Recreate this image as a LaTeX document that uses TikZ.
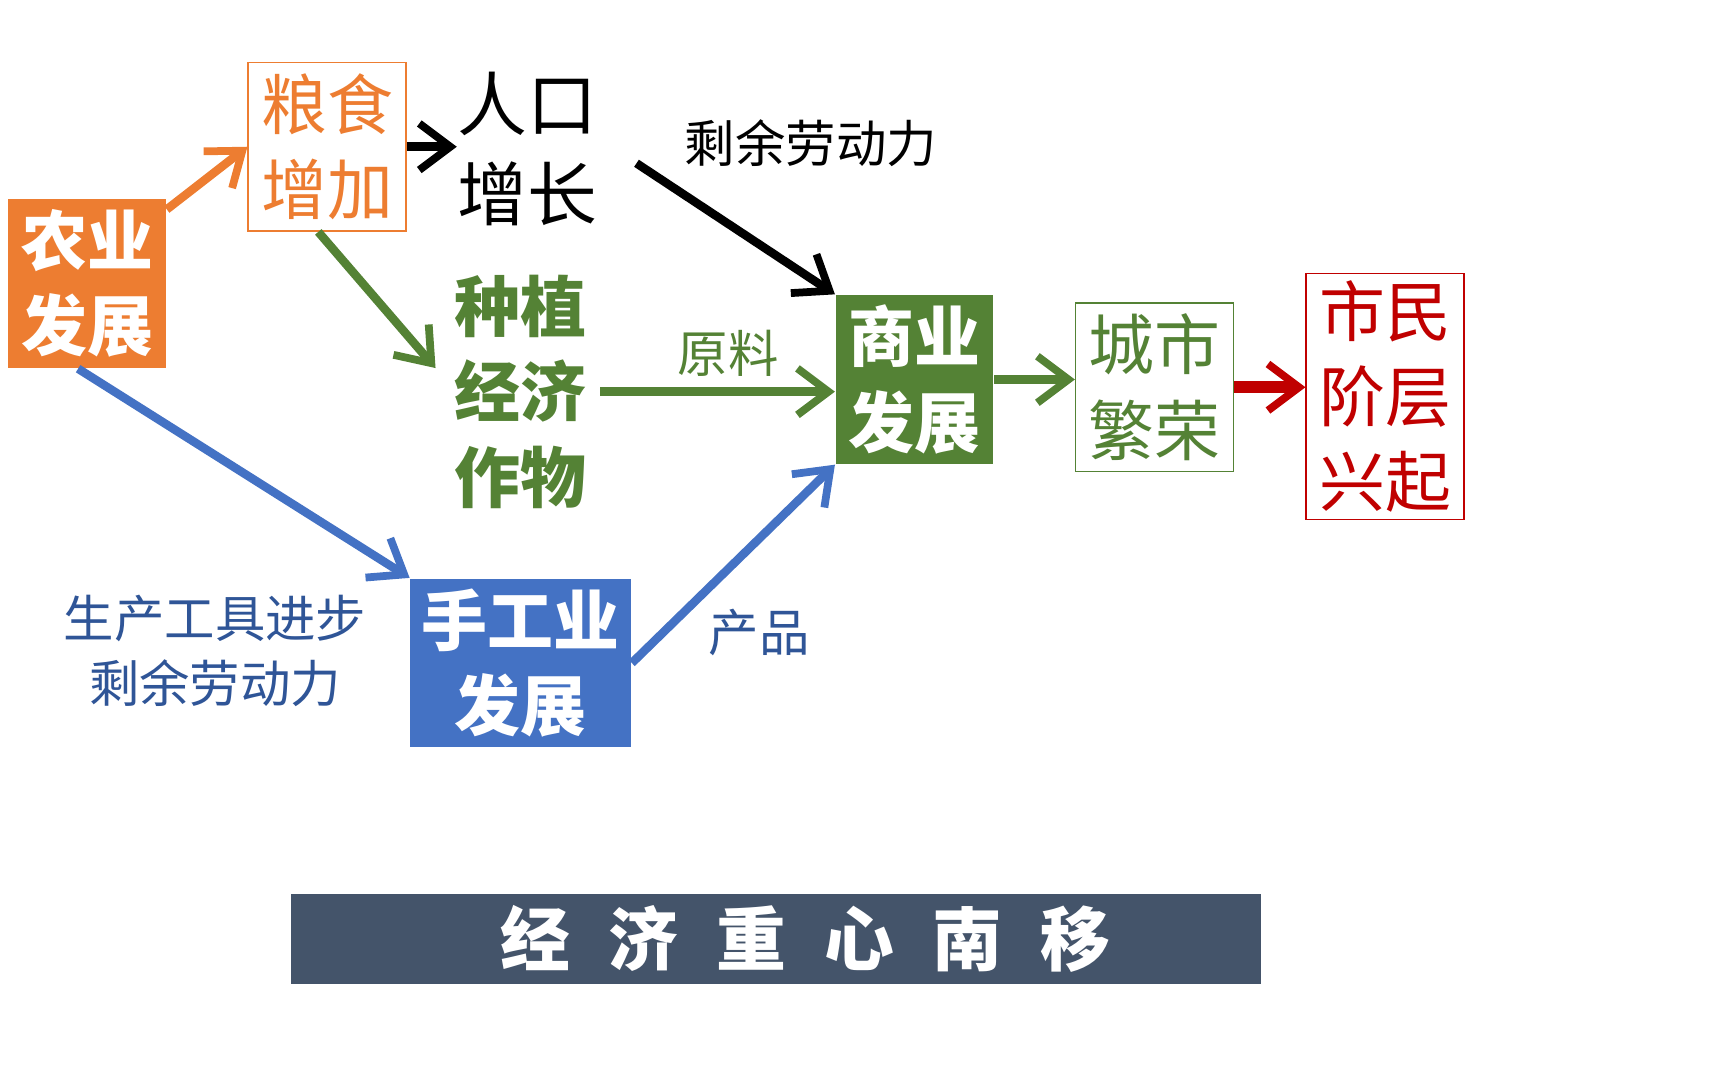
\documentclass[tikz,border=0pt]{standalone}
\usepackage{fontspec}
\setmainfont{Noto Sans CJK SC}
\usetikzlibrary{arrows.meta}
\definecolor{agriorange}{HTML}{ED7D31}
\definecolor{biggreen}{HTML}{548235}
\definecolor{craftblue}{HTML}{4472C4}
\definecolor{citizenred}{HTML}{C00000}
\definecolor{barslate}{HTML}{44546A}
\definecolor{labelblue}{HTML}{2F5597}
\tikzset{
  box/.style={minimum width=1.43cm, minimum height=1.53cm, inner sep=0pt, align=center, font=\fontsize{17}{22}\selectfont},
  flow/.style={line width=2.2pt, -{Straight Barb[length=8pt,width=12pt,line width=2pt]}},
  lbl/.style={font=\fontsize{13}{17}\selectfont\itshape}
}
\begin{document}
\begin{tikzpicture}[x=1cm,y=1cm]
        \useasboundingbox (0,0) rectangle (15.6,-9.75);

        \node[box, fill=agriorange, text=white, font=\fontsize{17}{22}\selectfont\bfseries] (agri) at (0.79,-2.57) {农业\\发展};
        \node[box, draw=agriorange, text=agriorange] (grain) at (2.965,-1.33) {粮食\\增加};
        \node[box, minimum width=1.2cm, minimum height=1.3cm, font=\fontsize{18}{23}\selectfont] (pop) at (4.78,-1.35) {人口\\增长};
        \node[box, text=biggreen, minimum height=2.1cm, font=\fontsize{17}{22}\selectfont\bfseries] (cash) at (4.72,-3.55) {种植\\经济\\作物};
        \node[box, fill=biggreen, text=white, font=\fontsize{17}{22}\selectfont\bfseries] (trade) at (8.29,-3.44) {商业\\发展};
        \node[box, draw=biggreen, text=biggreen] (city) at (10.465,-3.51) {城市\\繁荣};
        \node[box, draw=citizenred, text=citizenred, minimum height=2.23cm] (citizen) at (12.555,-3.595) {市民\\阶层\\兴起};
        \node[box, fill=craftblue, text=white, minimum width=2cm, font=\fontsize{17}{22}\selectfont\bfseries] (craft) at (4.72,-6.01) {手工业\\发展};

        \node[lbl] (surplus) at (7.35,-1.3) {剩余劳动力};
        \node[lbl, text=biggreen] (raw) at (6.6,-3.2) {原料};
        \node[lbl, text=labelblue, align=center] (tools) at (1.95,-5.9) {生产工具进步\\剩余劳动力};
        \node[lbl, text=labelblue] (goods) at (6.88,-5.73) {产品};

        \fill[barslate] (2.64,-8.1) rectangle (11.43,-8.92);
        \node[text=white, font=\fontsize{18}{22}\selectfont\bfseries] (shift) at (7.3,-8.51) {经\hspace{0.55em}济\hspace{0.55em}重\hspace{0.55em}心\hspace{0.55em}南\hspace{0.55em}移};

        \draw[flow, agriorange] (agri.north east) ++(0,-0.1) -- (grain.west);
        \draw[flow, black] (grain.east) -- (grain.east -| pop.west);
        \draw[flow, black] (pop.east) ++(0.35,-0.13) -- (trade.north west);
        \draw[flow, biggreen] (grain.south) ++(-0.08,0) -- ([shift={(-0.05,-0.85)}]cash.north west);
        \draw[flow, biggreen] (cash.east) -- (cash.east -| trade.west);
        \draw[flow, craftblue] (agri.south west) ++(0.64,0) -- (craft.north west);
        \draw[flow, craftblue] (craft.east) -- (trade.south west);
        \draw[flow, biggreen] (trade.east) -- (trade.east -| city.west);
        \draw[flow, citizenred, line width=3pt] (city.east) -- (city.east -| citizen.west);

    \end{tikzpicture}
\end{document}
